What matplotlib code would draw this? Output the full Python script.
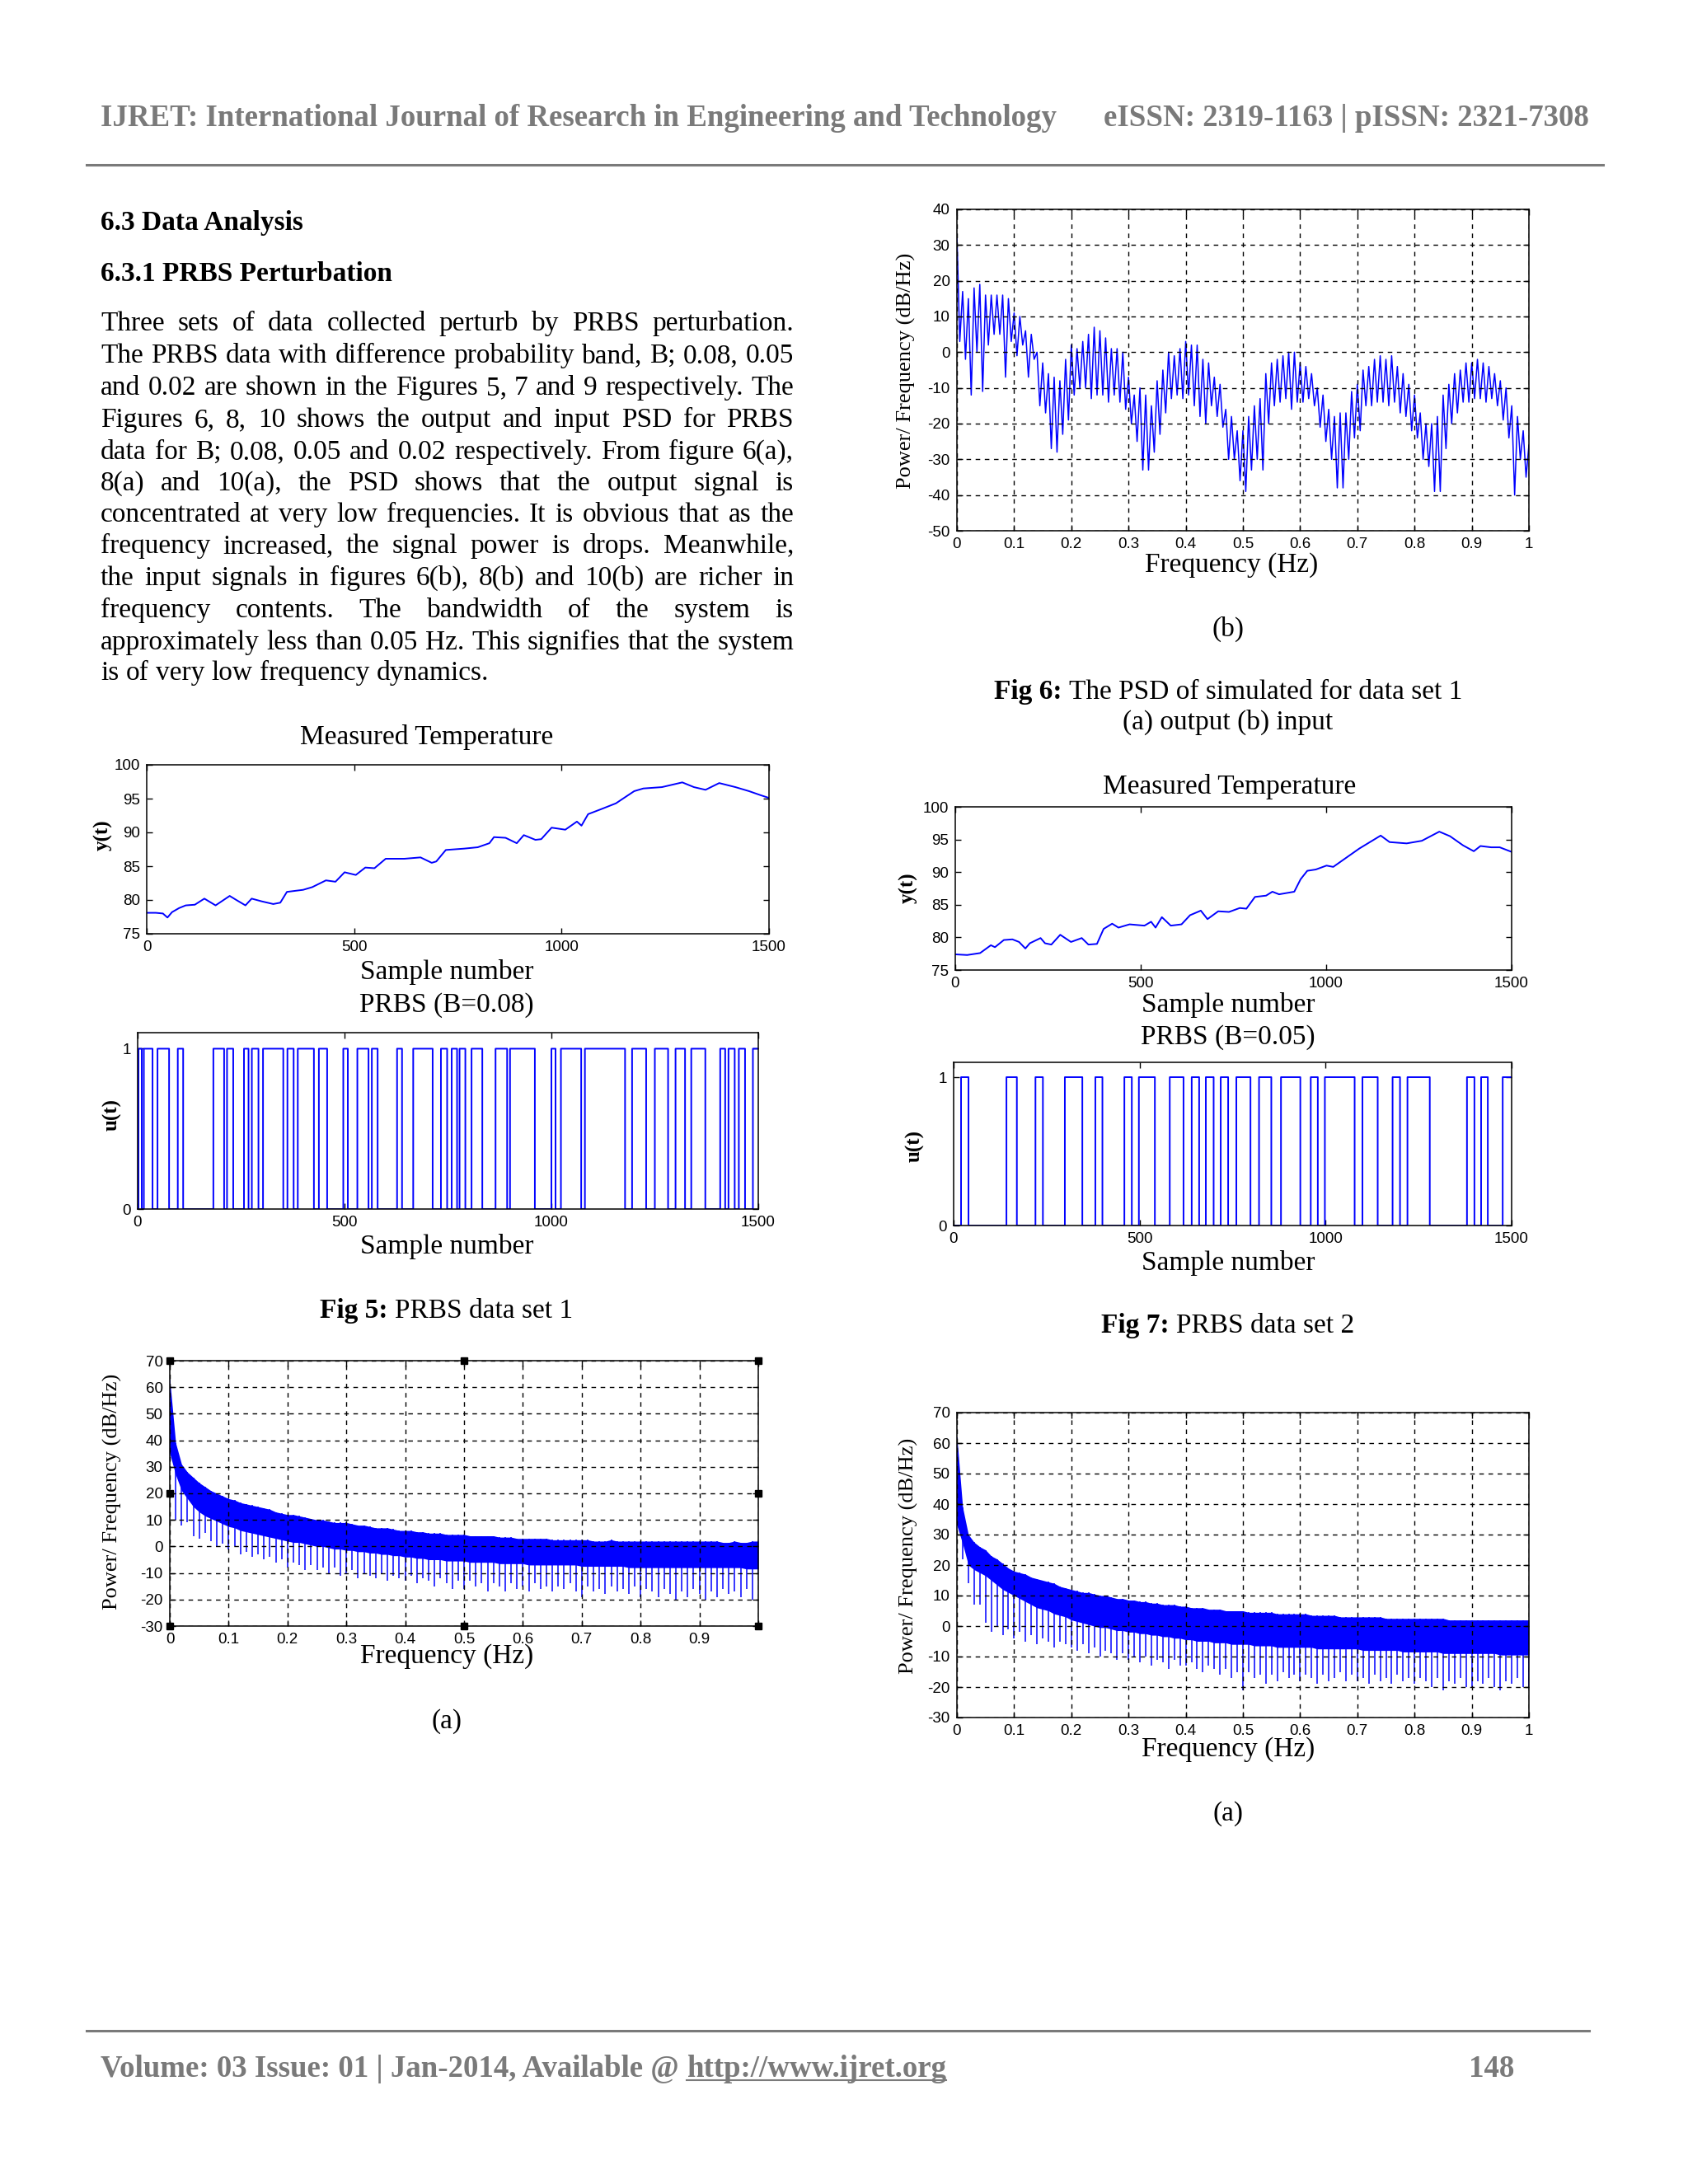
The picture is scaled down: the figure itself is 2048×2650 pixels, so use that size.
import matplotlib.pyplot as plt
import numpy as np
from matplotlib.lines import Line2D

W, H = 2048, 2650
SERIF = 'Liberation Serif'
BLUE = '#0000ff'
GRAY = '#7a7a7a'

plt.rcParams['font.family'] = 'Liberation Sans'
plt.rcParams['axes.unicode_minus'] = False

# ---------------- data read from the page ----------------
# Fig 5 / Fig 7: measured temperature y(t)
temp5_x = [0, 22, 39, 50, 61, 78, 94, 116, 139, 166, 200, 216, 238, 253, 277, 305, 322, 338, 377, 399,
           432, 455, 477, 504, 527, 549, 576, 621, 660, 687, 698, 721, 765, 798, 826, 837, 865, 892, 909, 937,
           951, 976, 1009, 1037, 1048, 1064, 1098, 1131, 1153, 1175, 1197, 1242, 1291, 1319, 1347, 1380, 1419,
           1452, 1480, 1500]
temp5_y = [78.1, 78.1, 78.0, 77.4, 78.2, 78.8, 79.2, 79.3, 80.2, 79.2, 80.6, 80.0, 79.2, 80.2, 79.8, 79.4,
           79.6, 81.2, 81.5, 81.9, 82.9, 82.7, 84.1, 83.7, 84.8, 84.7, 86.1, 86.1, 86.3, 85.5, 85.7, 87.4,
           87.6, 87.8, 88.4, 89.3, 89.2, 88.4, 89.6, 88.9, 89.0, 90.7, 90.4, 91.6, 91.0, 92.7, 93.5, 94.3,
           95.2, 96.1, 96.5, 96.7, 97.4, 96.7, 96.3, 97.3, 96.7, 96.1, 95.5, 95.1]
temp7_x = [0, 32, 67, 96, 107, 131, 154, 172, 189, 201, 230, 242, 259, 283, 312, 341, 359, 382, 400, 423,
           440, 470, 510, 528, 540, 557, 581, 610, 633, 662, 680, 709, 738, 767, 785, 808, 838, 855, 873, 914,
           931, 949, 972, 1001, 1019, 1054, 1089, 1118, 1147, 1171, 1217, 1258, 1305, 1334, 1369, 1398, 1416,
           1445, 1468, 1500]
temp7_y = [77.4, 77.3, 77.6, 78.8, 78.5, 79.6, 79.7, 79.3, 78.3, 79.1, 79.9, 79.1, 78.9, 80.4, 79.3, 79.9,
           78.9, 79.0, 81.3, 82.1, 81.5, 82.0, 81.8, 82.4, 81.5, 83.1, 81.8, 82.0, 83.4, 84.1, 82.8, 84.0,
           83.9, 84.5, 84.4, 86.2, 86.4, 87.0, 86.6, 87.0, 88.9, 90.2, 90.4, 91.0, 90.8, 92.2, 93.6, 94.6,
           95.6, 94.6, 94.4, 94.8, 96.2, 95.5, 94.1, 93.2, 94.0, 93.8, 93.8, 93.1]

# PRBS input u(t): sample numbers where the signal switches (starts at 0)
prbs1_switch = [2, 10, 15, 36, 48, 76, 97, 110, 183, 209, 216, 231, 257, 268, 276, 292, 303, 352, 362, 377,
                387, 426, 438, 458, 497, 508, 531, 558, 566, 580, 627, 639, 666, 713, 733, 748, 759, 772,
                778, 792, 807, 833, 865, 893, 900, 960, 1000, 1010, 1023, 1072, 1081, 1178, 1195, 1229,
                1250, 1282, 1300, 1323, 1338, 1372, 1408, 1420, 1428, 1443, 1453, 1468, 1487, 1500]
prbs2_switch = [20, 40, 142, 170, 220, 240, 299, 346, 381, 400, 459, 479, 498, 541, 581, 618, 640, 660,
                678, 699, 718, 738, 760, 798, 821, 854, 880, 932, 960, 979, 998, 1078, 1099, 1140, 1180,
                1200, 1220, 1280, 1380, 1400, 1418, 1436, 1476, 1500]

# Fig 6(b): input PSD, local max / min of the trace in each 0.01 Hz bin
psd_in_hi = [33, 17, 15, 18, 19, 16, 16, 16, 16, 15,
             11, 10, 6, 5, 0, -3, -6, -7, -8, -2,
             2, 1, 3, 5, 7, 6, 4, 1, 1, 0,
             -7, -12, -10, -12, -15, -8, -5, 0, -1, 1,
             3, 2, 2, -2, -3, -7, -9, -16, -18, -22,
             -22, -18, -15, -13, -6, -3, -2, -1, 0, 0,
             -3, -4, -6, -10, -12, -16, -18, -17, -17, -11,
             -9, -5, -4, -2, -1, -2, -1, -4, -6, -9,
             -12, -17, -20, -20, -18, -12, -9, -6, -5, -3,
             -3, -2, -3, -4, -6, -8, -10, -15, -18, -22,
             -26]
psd_in_lo = [3, -2, -12, 0, -11, 2, 5, 5, -7, 3,
             -1, 2, -7, -2, -15, -17, -27, -28, -23, -19,
             -12, -10, -10, -13, -12, -12, -14, -12, -14, -16,
             -20, -25, -33, -33, -28, -23, -17, -13, -12, -13,
             -12, -15, -18, -20, -15, -18, -21, -30, -30, -36,
             -39, -33, -30, -33, -20, -15, -14, -13, -16, -14,
             -14, -13, -15, -21, -25, -30, -38, -38, -30, -24,
             -22, -15, -15, -14, -14, -15, -14, -17, -18, -22,
             -24, -30, -32, -39, -39, -27, -20, -17, -14, -14,
             -13, -13, -14, -13, -15, -19, -24, -40, -30, -35,
             -41]

# Fig 6(a) / Fig 7(a): output PSD, band top, band bottom and dips every 0.01 Hz
psd6a_hi = [63, 39, 31, 28, 26, 24, 22.5, 21, 20, 19,
            18, 17.5, 16.5, 16, 15.5, 15, 14.5, 14, 13, 12.5,
            12, 12, 11.5, 11, 10.5, 10, 10, 9.5, 9, 9,
            9, 8.5, 8, 8, 7.5, 7, 7, 7, 6.5, 6,
            6, 6, 5.5, 5.5, 5, 5, 5, 4.5, 4.5, 4.5,
            4.5, 4, 4, 4, 4, 4, 3.5, 3.5, 3.5, 3,
            3, 3, 3, 3, 3, 2.5, 2.5, 2.5, 2.5, 2.5,
            2.5, 2.5, 2, 2, 2, 2.5, 2, 2, 2, 2,
            2, 2, 2, 2, 2, 2, 2, 2, 2, 2,
            2, 2, 2, 2, 1.5, 1.5, 2, 1.5, 1.5, 2,
            2]
psd6a_lo = [35, 27, 21, 18, 15, 13, 11.5, 10.5, 9.5, 8.5,
            7.5, 7, 6, 5.5, 5, 4.5, 4, 3.5, 3, 2.5,
            2, 1.5, 1.5, 1, 0.5, 0, 0, -0.5, -1, -1,
            -1.5, -1.5, -2, -2, -2.5, -2.5, -3, -3, -3.5, -3.5,
            -4, -4, -4.5, -4.5, -5, -5, -5, -5.5, -5.5, -5.5,
            -5.5, -6, -6, -6, -6, -6, -6.5, -6.5, -6.5, -6.5,
            -6.5, -7, -7, -7, -7, -7, -7, -7, -7, -7,
            -7.5, -7.5, -7.5, -7.5, -7.5, -7.5, -7.5, -7.5, -8, -8,
            -8, -8, -8, -8, -8, -8, -8, -8, -8, -8,
            -8, -8, -8, -8, -8, -8, -8, -8, -8.5, -8.5,
            -8.5]
psd6a_dip = [35, 10, 8, 9, 4, 3, 5, 2, 0, 1,
             -1, 0, -3, -2, -4, -3, -5, -4, -6, -5,
             -8, -6, -7, -9, -7, -9, -8, -10, -8, -11,
             -10, -9, -12, -10, -11, -12, -10, -13, -11, -12,
             -13, -11, -14, -12, -13, -15, -12, -14, -16, -13,
             -16, -13, -15, -14, -17, -14, -15, -17, -14, -16,
             -15, -17, -14, -16, -15, -17, -15, -16, -14, -17,
             -19, -15, -17, -16, -18, -15, -17, -16, -18, -15,
             -19, -16, -17, -19, -16, -18, -20, -17, -19, -16,
             -18, -20, -17, -19, -16, -18, -17, -19, -16, -20,
             -10]
psd7a_hi = [62, 39, 30, 27.5, 26, 25, 23, 22, 20.5, 19,
            18, 17.5, 17, 16, 15.5, 15, 14.5, 14, 13, 12.5,
            12, 11.5, 11, 11, 10.5, 10, 10, 9.5, 9, 9,
            8.5, 8.5, 8, 8, 7.5, 7.5, 7, 7, 7, 6.5,
            6.5, 6, 6, 6, 5.5, 5.5, 5.5, 5, 5, 5,
            5, 4.5, 4.5, 4.5, 4.5, 4.5, 4, 4, 4, 4,
            4, 4, 3.5, 3.5, 3.5, 3.5, 3.5, 3, 3, 3,
            3, 3, 3, 3, 3, 2.5, 2.5, 2.5, 2.5, 2.5,
            2.5, 2.5, 2.5, 2.5, 2.5, 2.5, 2, 2, 2, 2,
            2, 2, 2, 2, 2, 2, 2, 2, 2, 2,
            2]
psd7a_lo = [33, 27, 20, 18.5, 17.5, 16.5, 15, 13.5, 12, 11,
            10, 9, 8, 7, 6, 5.5, 5, 4, 3.5, 3,
            2, 1.5, 1, 0.5, 0, -0.5, -0.5, -1, -1.5, -1.5,
            -2, -2, -2.5, -2.5, -3, -3, -3.5, -3.5, -4, -4,
            -4.5, -4.5, -5, -5, -5, -5.5, -5.5, -5.5, -6, -6,
            -6, -6, -6.5, -6.5, -6.5, -6.5, -7, -7, -7, -7,
            -7, -7, -7, -7.5, -7.5, -7.5, -7.5, -7.5, -7.5, -7.5,
            -7.5, -8, -8, -8, -8, -8, -8, -8, -8.5, -8.5,
            -8.5, -8.5, -8.5, -8.5, -8.5, -9, -9, -9, -9, -9,
            -9, -9, -9, -9, -9, -9.5, -9.5, -9.5, -9.5, -9.5,
            -9.5]
psd7a_dip = [33, 22, 14, 7, 7, 1, -2, 0, -3, -1,
             -4, -2, -5, -3, -6, -4, -5, -7, -5, -6,
             -7, -8, -6, -9, -7, -10, -8, -9, -11, -9,
             -11, -10, -12, -10, -13, -11, -12, -14, -11, -13,
             -13, -12, -14, -15, -13, -14, -16, -14, -17, -15,
             -21, -15, -17, -16, -19, -16, -18, -15, -17, -16,
             -18, -16, -17, -19, -16, -18, -17, -15, -18, -16,
             -18, -17, -19, -16, -18, -17, -19, -16, -18, -17,
             -19, -17, -18, -20, -17, -21, -18, -19, -17, -20,
             -20, -18, -19, -17, -20, -21, -18, -19, -17, -20,
             -20]
psd_f = np.linspace(0, 1, 101)

body_lines = [
    "Three sets of data collected perturb by PRBS perturbation.",
    "The PRBS data with difference probability band, B; 0.08, 0.05",
    "and 0.02 are shown in the Figures 5, 7 and 9 respectively. The",
    "Figures 6, 8, 10 shows the output and input PSD for PRBS",
    "data for B; 0.08, 0.05 and 0.02 respectively. From figure 6(a),",
    "8(a) and 10(a), the PSD shows that the output signal is",
    "concentrated at very low frequencies. It is obvious that as the",
    "frequency increased, the signal power is drops. Meanwhile,",
    "the input signals in figures 6(b), 8(b) and 10(b)  are richer in",
    "frequency contents. The bandwidth of the system is",
    "approximately less than 0.05 Hz. This signifies that the system",
    "is of very low frequency dynamics.",
]

# ---------------- figure ----------------
fig = plt.figure(figsize=(W / 100, H / 100), dpi=100)
fig.patch.set_facecolor('white')
renderer = fig.canvas.get_renderer()


def fx(x):
    return x / W


def fy(y):
    return 1 - y / H


def text_w(s, size, weight='normal'):
    t = fig.text(0, 0, s, fontsize=size, family=SERIF, fontweight=weight)
    w = t.get_window_extent(renderer).width
    t.remove()
    return w


def put(x, y, s, size, weight='normal', ha='left', color='black', **kw):
    return fig.text(fx(x), fy(y), s, fontsize=size, family=SERIF, fontweight=weight,
                    ha=ha, va='baseline', color=color, **kw)


def vlabel(x, y, s, size, weight='normal'):
    fig.text(fx(x), fy(y), s, fontsize=size, family=SERIF, fontweight=weight,
             rotation=90, ha='center', va='center')


def caption(parts, cx, y, size):
    sp = text_w('a a', size) - text_w('aa', size)
    ws = [text_w(s, size, wt) for s, wt in parts]
    x = cx - (sum(ws) + sp * (len(parts) - 1)) / 2
    for (s, wt), w in zip(parts, ws):
        put(x, y, s, size, wt)
        x += w + sp


def justify(line, y, x0, x1, size, last=False):
    words = line.split()
    widths = [text_w(w, size) for w in words]
    if last:
        gap = text_w('a a', size) - text_w('aa', size)
    else:
        gap = (x1 - x0 - sum(widths)) / (len(words) - 1)
    x = x0
    for w, wd in zip(words, widths):
        put(x, y, w, size)
        x += wd + gap


def add_ax(l, t, r, b):
    ax = fig.add_axes([l / W, 1 - b / H, (r - l) / W, (b - t) / H])
    ax.tick_params(direction='in', top=True, right=True, length=5, width=1,
                   labelsize=13.5, pad=6)
    for s in ax.spines.values():
        s.set_linewidth(1.1)
    return ax


def psd_ax(l, t, r, b, ylo, yhi, last_label='1'):
    ax = add_ax(l, t, r, b)
    ax.set_xlim(0, 1)
    ax.set_ylim(ylo, yhi)
    xt = np.linspace(0, 1, 11)
    ax.set_xticks(xt)
    ax.set_xticklabels(['0'] + ['%.1f' % v for v in xt[1:-1]] + [last_label])
    ax.set_yticks(np.arange(ylo, yhi + 1, 10))
    ax.grid(True, color='black', linestyle=(0, (4, 4)), linewidth=1)
    ax.set_axisbelow(False)
    return ax


def prbs_signal(switch):
    u = np.zeros(1501)
    for a, b in zip(switch[::2], switch[1::2]):
        u[a:b] = 1
    u[-1] = u[-2]
    return u


# header / footer
hdr_left = 'IJRET: International Journal of Research in Engineering and Technology'
hdr_right = 'eISSN: 2319-1163 | pISSN: 2321-7308'
hs = 24 * 1162 / text_w(hdr_left, 24, 'bold')
put(122, 153, hdr_left, hs, 'bold', color=GRAY)
put(1928, 153, hdr_right, hs, 'bold', ha='right', color=GRAY)
fig.add_artist(Line2D([fx(105), fx(1945)], [fy(200), fy(200)], color=GRAY, lw=2.2))

foot_a = 'Volume: 03 Issue: 01 | Jan-2014, Available @ '
foot_b = 'http://www.ijret.org'
put(122, 2520, foot_a, hs, 'bold', color=GRAY)
xa = 122 + text_w(foot_a, hs, 'bold')
put(xa, 2520, foot_b, hs, 'bold', color=GRAY)
fig.add_artist(Line2D([fx(xa), fx(xa + text_w(foot_b, hs, 'bold'))], [fy(2524), fy(2524)],
                      color=GRAY, lw=1.5))
put(1810, 2520, '148', hs, 'bold', ha='center', color=GRAY)
fig.add_artist(Line2D([fx(105), fx(1928)], [fy(2464), fy(2464)], color=GRAY, lw=2.2))

# left column text
put(122, 279, '6.3 Data Analysis', 24, 'bold')
put(122, 341, '6.3.1 PRBS Perturbation', 24, 'bold')
bs = 24
widest = max(text_w(l, 24) for l in body_lines[:-1])
if widest > 841:
    bs = 24 * 841 / widest
line_y = [401, 440, 479, 518, 557, 595, 633, 671, 710, 749, 788, 825]
for i, (ln, yy) in enumerate(zip(body_lines, line_y)):
    justify(ln, yy, 122, 963, bs, last=(i == len(body_lines) - 1))

# ---- Fig 6(b): input PSD ----
ax = psd_ax(1161, 254, 1855, 644, -50, 40)
# max of each bin at its start, min half a bin later
zx = np.column_stack([psd_f, psd_f + 0.005]).ravel()
zy = np.column_stack([psd_in_hi, psd_in_lo]).ravel()
ax.plot(zx, zy, color=BLUE, lw=1.1)
vlabel(1099, 450, 'Power/ Frequency (dB/Hz)', 19)
caption([('Frequency (Hz)', 'normal')], 1494, 694, 24)
caption([('(b)', 'normal')], 1490, 772, 24)
caption([('Fig 6:', 'bold'), ('The PSD of simulated for data set 1', 'normal')], 1490, 848, 24)
caption([('(a) output (b) input', 'normal')], 1490, 885, 24)

# ---- Fig 5 ----
ax = add_ax(178, 928, 933, 1133)
ax.plot(temp5_x, temp5_y, color=BLUE, lw=1.4)
ax.set_xlim(0, 1500)
ax.set_ylim(75, 100)
ax.set_xticks([0, 500, 1000, 1500])
ax.set_yticks([75, 80, 85, 90, 95, 100])
caption([('Measured Temperature', 'normal')], 518, 903, 24)
vlabel(125, 1013, 'y(t)', 18, 'bold')
caption([('Sample number', 'normal')], 542, 1188, 24)

ax = add_ax(167, 1253, 920, 1467)
ax.plot(np.arange(1501), prbs_signal(prbs1_switch), color=BLUE, lw=1.4, drawstyle='steps-post')
ax.set_xlim(0, 1500)
ax.set_ylim(0, 1.1)
ax.set_xticks([0, 500, 1000, 1500])
ax.set_yticks([0, 1])
caption([('PRBS (B=0.08)', 'normal')], 542, 1228, 24)
vlabel(136, 1353, 'u(t)', 18, 'bold')
caption([('Sample number', 'normal')], 542, 1521, 24)
caption([('Fig 5:', 'bold'), ('PRBS data set 1', 'normal')], 542, 1599, 24)

# ---- Fig 6(a): output PSD ----
ax = psd_ax(206, 1651, 920, 1973, -30, 70, last_label='')
ax.fill_between(psd_f, psd6a_lo, psd6a_hi, color=BLUE, lw=0)
ax.vlines(psd_f, psd6a_dip, psd6a_hi, color=BLUE, lw=1.1)
ax.plot([0, 0.5, 1, 0, 1, 0, 0.5, 1], [1, 1, 1, 0.5, 0.5, 0, 0, 0], 's', color='black', ms=6,
        transform=ax.transAxes, clip_on=False)
vlabel(136, 1810, 'Power/ Frequency (dB/Hz)', 19)
caption([('Frequency (Hz)', 'normal')], 542, 2018, 24)
caption([('(a)', 'normal')], 542, 2097, 24)

# ---- Fig 7 ----
ax = add_ax(1159, 979, 1834, 1177)
ax.plot(temp7_x, temp7_y, color=BLUE, lw=1.4)
ax.set_xlim(0, 1500)
ax.set_ylim(75, 100)
ax.set_xticks([0, 500, 1000, 1500])
ax.set_yticks([75, 80, 85, 90, 95, 100])
caption([('Measured Temperature', 'normal')], 1492, 963, 24)
vlabel(1102, 1077, 'y(t)', 18, 'bold')
caption([('Sample number', 'normal')], 1490, 1228, 24)

ax = add_ax(1157, 1289, 1834, 1487)
ax.plot(np.arange(1501), prbs_signal(prbs2_switch), color=BLUE, lw=1.4, drawstyle='steps-post')
ax.set_xlim(0, 1500)
ax.set_ylim(0, 1.1)
ax.set_xticks([0, 500, 1000, 1500])
ax.set_yticks([0, 1])
caption([('PRBS (B=0.05)', 'normal')], 1490, 1267, 24)
vlabel(1110, 1390, 'u(t)', 18, 'bold')
caption([('Sample number', 'normal')], 1490, 1541, 24)
caption([('Fig 7:', 'bold'), ('PRBS data set 2', 'normal')], 1490, 1617, 24)

# ---- Fig 7(a): output PSD ----
ax = psd_ax(1161, 1714, 1855, 2084, -30, 70)
ax.fill_between(psd_f, psd7a_lo, psd7a_hi, color=BLUE, lw=0)
ax.vlines(psd_f, psd7a_dip, psd7a_hi, color=BLUE, lw=1.1)
vlabel(1102, 1888, 'Power/ Frequency (dB/Hz)', 19)
caption([('Frequency (Hz)', 'normal')], 1490, 2131, 24)
caption([('(a)', 'normal')], 1490, 2209, 24)

fig.savefig('out.png', dpi=100, facecolor='white')
